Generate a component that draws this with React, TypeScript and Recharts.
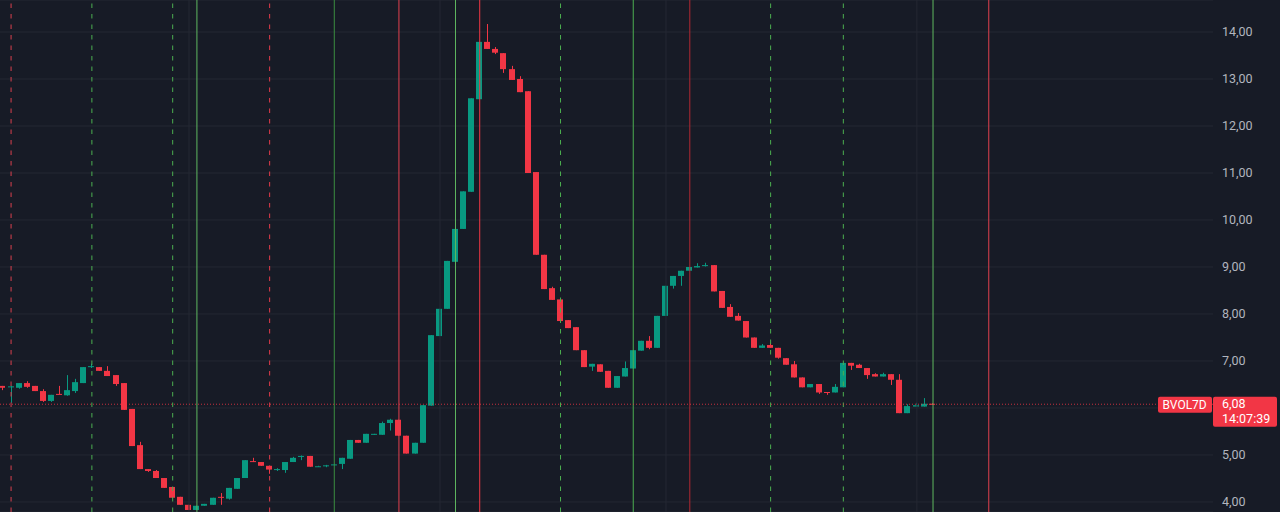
import React from 'react';
import {
  ComposedChart,
  Bar,
  XAxis,
  YAxis,
  CartesianGrid,
  ReferenceLine
} from 'recharts';

const UP = '#089981';
const DOWN = '#f23645';
const BG = '#171b26';
const GRID = '#242833';

// OHLC, one value per candle
const opens = [
  6.47, 6.45, 6.43, 6.53, 6.47, 6.36, 6.15, 6.30, 6.27, 6.36,
  6.53, 6.88, 6.87, 6.79, 6.70, 6.53, 5.98, 5.21, 4.70, 4.66,
  4.51, 4.32, 4.11, 3.94, 3.83, 3.92, 3.94, 4.11, 4.07, 4.28,
  4.51, 4.87, 4.85, 4.77, 4.69, 4.68, 4.85, 4.97, 4.98, 4.75,
  4.77, 4.79, 4.81, 4.92, 5.32, 5.26, 5.43, 5.43, 5.68, 5.75,
  5.41, 5.03, 5.26, 6.05, 7.53, 8.11, 9.11, 9.81, 10.60, 12.57,
  13.79, 13.64, 13.55, 13.21, 13.00, 12.74, 11.02, 9.26, 8.55, 8.31,
  7.87, 7.72, 7.23, 6.88, 6.93, 6.79, 6.43, 6.67, 6.84, 7.22,
  7.43, 7.28, 7.96, 8.60, 8.81, 8.92, 8.99, 9.03, 9.04, 8.49,
  8.15, 7.96, 7.85, 7.50, 7.28, 7.34, 7.28, 7.06, 6.93, 6.65,
  6.44, 6.51, 6.34, 6.33, 6.44, 6.96, 6.92, 6.85, 6.72, 6.67,
  6.72, 6.60, 5.89, 6.03, 6.03, 6.09
];
const highs = [
  6.47, 6.47, 6.53, 6.57, 6.47, 6.40, 6.28, 6.47, 6.70, 6.62,
  6.87, 6.94, 6.87, 6.89, 6.70, 6.53, 5.98, 5.28, 4.70, 4.68,
  4.51, 4.32, 4.11, 3.94, 3.92, 3.96, 4.09, 4.19, 4.30, 4.51,
  4.89, 4.94, 4.85, 4.77, 4.72, 4.85, 4.96, 4.99, 4.98, 4.77,
  4.79, 4.81, 4.94, 5.32, 5.32, 5.45, 5.45, 5.71, 5.77, 5.75,
  5.41, 5.26, 6.06, 7.55, 8.11, 9.13, 9.81, 10.61, 12.59, 13.79,
  14.17, 13.68, 13.55, 13.28, 13.06, 12.74, 11.02, 9.26, 8.58, 8.31,
  7.87, 7.72, 7.23, 6.94, 6.93, 6.79, 6.68, 6.99, 7.23, 7.43,
  7.53, 7.96, 8.60, 8.81, 8.92, 9.00, 9.08, 9.09, 9.04, 8.49,
  8.21, 8.02, 7.85, 7.50, 7.36, 7.39, 7.28, 7.06, 7.00, 6.65,
  6.51, 6.51, 6.34, 6.51, 6.96, 6.96, 6.94, 6.85, 6.74, 6.75,
  6.72, 6.72, 6.08, 6.11, 6.21, 6.10
];
const lows = [
  6.38, 6.11, 6.41, 6.43, 6.36, 6.13, 6.13, 6.29, 6.26, 6.32,
  6.53, 6.85, 6.79, 6.68, 6.47, 5.96, 5.19, 4.70, 4.64, 4.51,
  4.30, 4.09, 3.94, 3.83, 3.83, 3.92, 3.94, 3.94, 4.05, 4.28,
  4.51, 4.85, 4.77, 4.60, 4.66, 4.62, 4.85, 4.89, 4.75, 4.75,
  4.74, 4.78, 4.70, 4.92, 5.26, 5.26, 5.43, 5.43, 5.52, 5.41,
  5.03, 5.03, 5.26, 6.05, 7.53, 8.11, 9.11, 9.81, 10.60, 12.57,
  13.64, 13.53, 13.13, 12.98, 12.72, 11.00, 9.26, 8.53, 8.30, 7.85,
  7.70, 7.23, 6.87, 6.79, 6.77, 6.43, 6.43, 6.67, 6.84, 7.22,
  7.25, 7.28, 7.96, 8.54, 8.60, 8.92, 8.99, 9.01, 8.48, 8.13,
  7.94, 7.86, 7.50, 7.28, 7.28, 7.28, 7.05, 6.92, 6.65, 6.44,
  6.44, 6.30, 6.28, 6.33, 6.44, 6.81, 6.85, 6.62, 6.67, 6.67,
  6.49, 5.89, 5.89, 6.03, 6.03, 6.07
];
const closes = [
  6.43, 6.46, 6.53, 6.45, 6.36, 6.15, 6.28, 6.29, 6.38, 6.55,
  6.87, 6.89, 6.79, 6.68, 6.51, 5.96, 5.19, 4.70, 4.66, 4.51,
  4.30, 4.09, 3.94, 3.83, 3.92, 3.96, 4.09, 4.09, 4.30, 4.51,
  4.89, 4.85, 4.77, 4.69, 4.70, 4.85, 4.94, 4.98, 4.75, 4.76,
  4.78, 4.80, 4.94, 5.32, 5.26, 5.45, 5.45, 5.68, 5.75, 5.41,
  5.03, 5.26, 6.06, 7.55, 8.11, 9.13, 9.81, 10.61, 12.59, 13.79,
  13.64, 13.56, 13.21, 12.98, 12.72, 11.00, 9.26, 8.53, 8.30, 7.85,
  7.70, 7.23, 6.87, 6.94, 6.77, 6.43, 6.68, 6.85, 7.23, 7.43,
  7.28, 7.96, 8.60, 8.81, 8.92, 9.00, 9.02, 9.04, 8.48, 8.13,
  7.94, 7.86, 7.50, 7.28, 7.33, 7.28, 7.07, 6.92, 6.65, 6.44,
  6.51, 6.33, 6.33, 6.45, 6.96, 6.90, 6.85, 6.70, 6.67, 6.72,
  6.60, 5.89, 6.04, 6.06, 6.09, 6.08
];

const yTicks = [4, 5, 6, 7, 8, 9, 10, 11, 12, 13, 14];
const lastPrice = 6.08;
const lastTime = '14:07:39';
const symbol = 'BVOL7D';

// vertical markers, candle index positions
const markers = [
  { at: 1, color: '#d8404e', dashed: true },
  { at: 11, color: '#4caf50', dashed: true },
  { at: 21, color: '#4caf50', dashed: true },
  { at: 24, color: '#5fb760', dashed: false },
  { at: 33, color: '#e33c4b', dashed: true },
  { at: 41, color: '#3b8e40', dashed: false },
  { at: 49, color: '#e2404e', dashed: false },
  { at: 56, color: '#5fb760', dashed: false },
  { at: 59, color: '#f23645', dashed: false },
  { at: 69, color: '#4caf50', dashed: true },
  { at: 78, color: '#4caf50', dashed: false },
  { at: 85, color: '#b22833', dashed: false },
  { at: 95, color: '#4caf50', dashed: true },
  { at: 104, color: '#4caf50', dashed: true },
  { at: 115.1, color: '#5fb760', dashed: false },
  { at: 122, color: '#e2404e', dashed: false }
];
const timeGrid = [23.02, 54.08, 82.05, 113.1];

const data = opens.map((o, i) => ({
  i,
  open: o,
  high: highs[i],
  low: lows[i],
  close: closes[i]
}));

const fmt = (v: number) => v.toFixed(2).replace('.', ',');

const Candle = (props: any) => {
  const { x, y, width, height, payload } = props;
  const top = Math.min(y, y + height);
  const h = Math.abs(height);
  const { open, close, high, low } = payload;
  const per = high - low > 0 ? h / (high - low) : 0;
  const yOf = (v: number) => top + (high - v) * per;
  const color = close >= open ? UP : DOWN;
  const cx = Math.round(x + width / 2 - 0.5) + 0.5;
  const bTop = yOf(Math.max(open, close));
  const bBot = yOf(Math.min(open, close));
  return (
    <g>
      <line x1={cx} x2={cx} y1={top} y2={top + h} stroke={color} strokeWidth={1} />
      <rect x={cx - 3.5} y={bTop} width={6} height={Math.max(1, bBot - bTop)} fill={color} />
    </g>
  );
};

// last price badge, sits on the price line; it hides the 6,00 tick like in the original
const PriceLabel = (props: any) => {
  const vb = props.viewBox || {};
  const right = vb.x + vb.width;
  const y = vb.y;
  return (
    <g style={{ fontFamily: 'Roboto, sans-serif' }}>
      <rect x={right - 55} y={y - 7.5} width={54} height={16} rx={2} fill={DOWN} />
      <text x={right - 50.5} y={y + 4.5} fill="#ffffff" fontSize={12}>{symbol}</text>
      <rect x={right} y={y - 7.5} width={64} height={30} rx={2} fill={DOWN} />
      <text x={right + 9} y={y + 3.5} fill="#ffffff" fontSize={12.5}>{fmt(lastPrice)}</text>
      <text x={right + 9} y={y + 18.5} fill="#ffffff" fontSize={12.5}>{lastTime}</text>
    </g>
  );
};

const App: React.FC = () => {
  return (
    <div style={{ position: 'fixed', left: 0, top: 0, width: 1280, height: 512, background: BG }}>
      <ComposedChart
        width={1280}
        height={512}
        data={data}
        margin={{ top: 0, right: 0, left: 0, bottom: 0 }}
      >
        <CartesianGrid stroke={GRID} vertical={false} />
        <XAxis dataKey="i" type="number" domain={[-0.371, 149.75]} allowDataOverflow hide />
        <YAxis
          orientation="right"
          width={67}
          domain={[3.787, 14.681]}
          allowDataOverflow
          ticks={yTicks}
          tickSize={0}
          tickMargin={9}
          axisLine={false}
          tickLine={false}
          tick={{ fill: '#b2b5be', fontSize: 12.5, fontFamily: 'Roboto, sans-serif' }}
          tickFormatter={(v: number) => (Math.abs(v - lastPrice) < 0.3 ? '' : fmt(v))}
        />
        {timeGrid.map((t) => (
          <ReferenceLine key={'g' + t} x={t} stroke={GRID} strokeWidth={1} />
        ))}
        <Bar
          dataKey={(d: any) => [d.low, d.high]}
          barSize={6}
          shape={<Candle />}
          isAnimationActive={false}
        />
        {markers.map((m) => (
          <ReferenceLine
            key={'m' + m.at}
            x={m.at}
            stroke={m.color}
            strokeWidth={1}
            strokeDasharray={m.dashed ? '4.5 6' : undefined}
          />
        ))}
        <ReferenceLine
          y={lastPrice}
          stroke={DOWN}
          strokeDasharray="1 2"
          strokeOpacity={0.8}
          label={<PriceLabel />}
        />
      </ComposedChart>
    </div>
  );
};

export default App;
